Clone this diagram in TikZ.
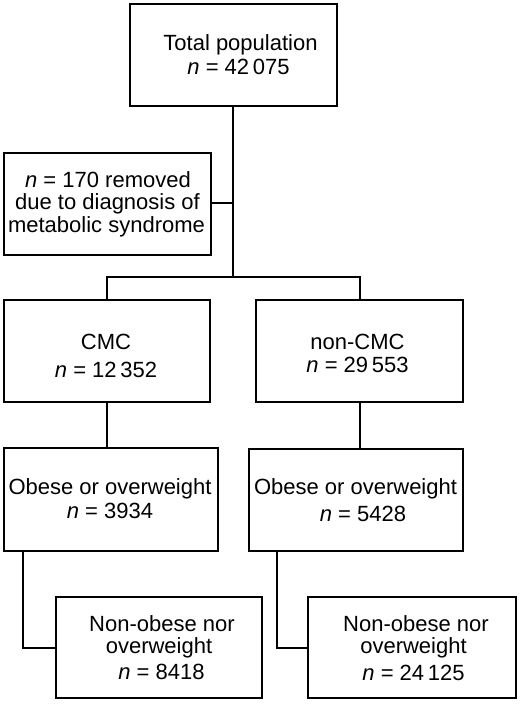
\documentclass[tikz,border=0pt]{standalone}
\usepackage{fontspec}
\setmainfont{Liberation Sans}
\begin{document}
\begin{tikzpicture}[x=1pt,y=-1pt,
  box/.style={draw=black, line width=2pt, rectangle, inner sep=0pt, outer sep=0pt},
  txt/.style={font=\fontsize{22}{24}\selectfont, inner sep=0pt, anchor=base, text=black},
  link/.style={draw=black, line width=2pt}]
\useasboundingbox (0,0) rectangle (520,704);
% boxes
\node[box, minimum width=207pt, minimum height=102pt] (total)   at (233.5,55) {};
\node[box, minimum width=207pt, minimum height=102pt] (removed) at (107.5,204) {};
\node[box, minimum width=206pt, minimum height=102pt] (cmc)     at (107,351) {};
\node[box, minimum width=207pt, minimum height=102pt] (noncmc)  at (359.5,351) {};
\node[box, minimum width=214pt, minimum height=103pt] (ob1)     at (111,499.5) {};
\node[box, minimum width=214pt, minimum height=102pt] (ob2)     at (356,500) {};
\node[box, minimum width=206pt, minimum height=101pt] (nob1)    at (159,647.5) {};
\node[box, minimum width=208pt, minimum height=101pt] (nob2)    at (412,647.5) {};
% texts
\node[txt] (t1a) at (240.5,50) {Total population};
\node[txt] (t1b) at (238.5,74) {\textit{n} = 42\,075};
\node[txt] (t2a) at (108,187) {\textit{n} = 170 removed};
\node[txt] (t2b) at (107.5,209.5) {due to diagnosis of};
\node[txt] (t2c) at (106.5,232) {metabolic syndrome};
\node[txt] (t3a) at (106,349) {CMC};
\node[txt] (t3b) at (106,377) {\textit{n} = 12\,352};
\node[txt] (t4a) at (357.5,349) {non-CMC};
\node[txt] (t4b) at (357.5,372) {\textit{n} = 29\,553};
\node[txt] (t5a) at (110,494) {Obese or overweight};
\node[txt] (t5b) at (110,518) {\textit{n} = 3934};
\node[txt] (t6a) at (355.5,494) {Obese or overweight};
\node[txt] (t6b) at (363,521.5) {\textit{n} = 5428};
\node[txt] (t7a) at (162,631) {Non-obese nor};
\node[txt] (t7b) at (159,653) {overweight};
\node[txt] (t7c) at (161.5,679) {\textit{n} = 8418};
\node[txt] (t8a) at (416,631) {Non-obese nor};
\node[txt] (t8b) at (413.5,653) {overweight};
\node[txt] (t8c) at (413.5,680) {\textit{n} = 24\,125};
% connectors
\coordinate (split) at (233,277);
\coordinate (trunk) at (233,106);
\draw[link] (trunk) -- (split);
\coordinate (rj) at (233,203);
\draw[link] (removed.east |- rj) -- (rj);
\draw[link] (cmc.north) -- (cmc.north |- split) -- (noncmc.north |- split) -- (noncmc.north);
\draw[link] (cmc.south) -- (cmc.south |- ob1.north);
\draw[link] (noncmc.south) -- (noncmc.south |- ob2.north);
\coordinate (o1) at (23,552);
\coordinate (o2) at (277,552);
\draw[link] (o1) -- (o1 |- nob1.west) -- (nob1.west);
\draw[link] (o2) -- (o2 |- nob2.west) -- (nob2.west);
\end{tikzpicture}
\end{document}
